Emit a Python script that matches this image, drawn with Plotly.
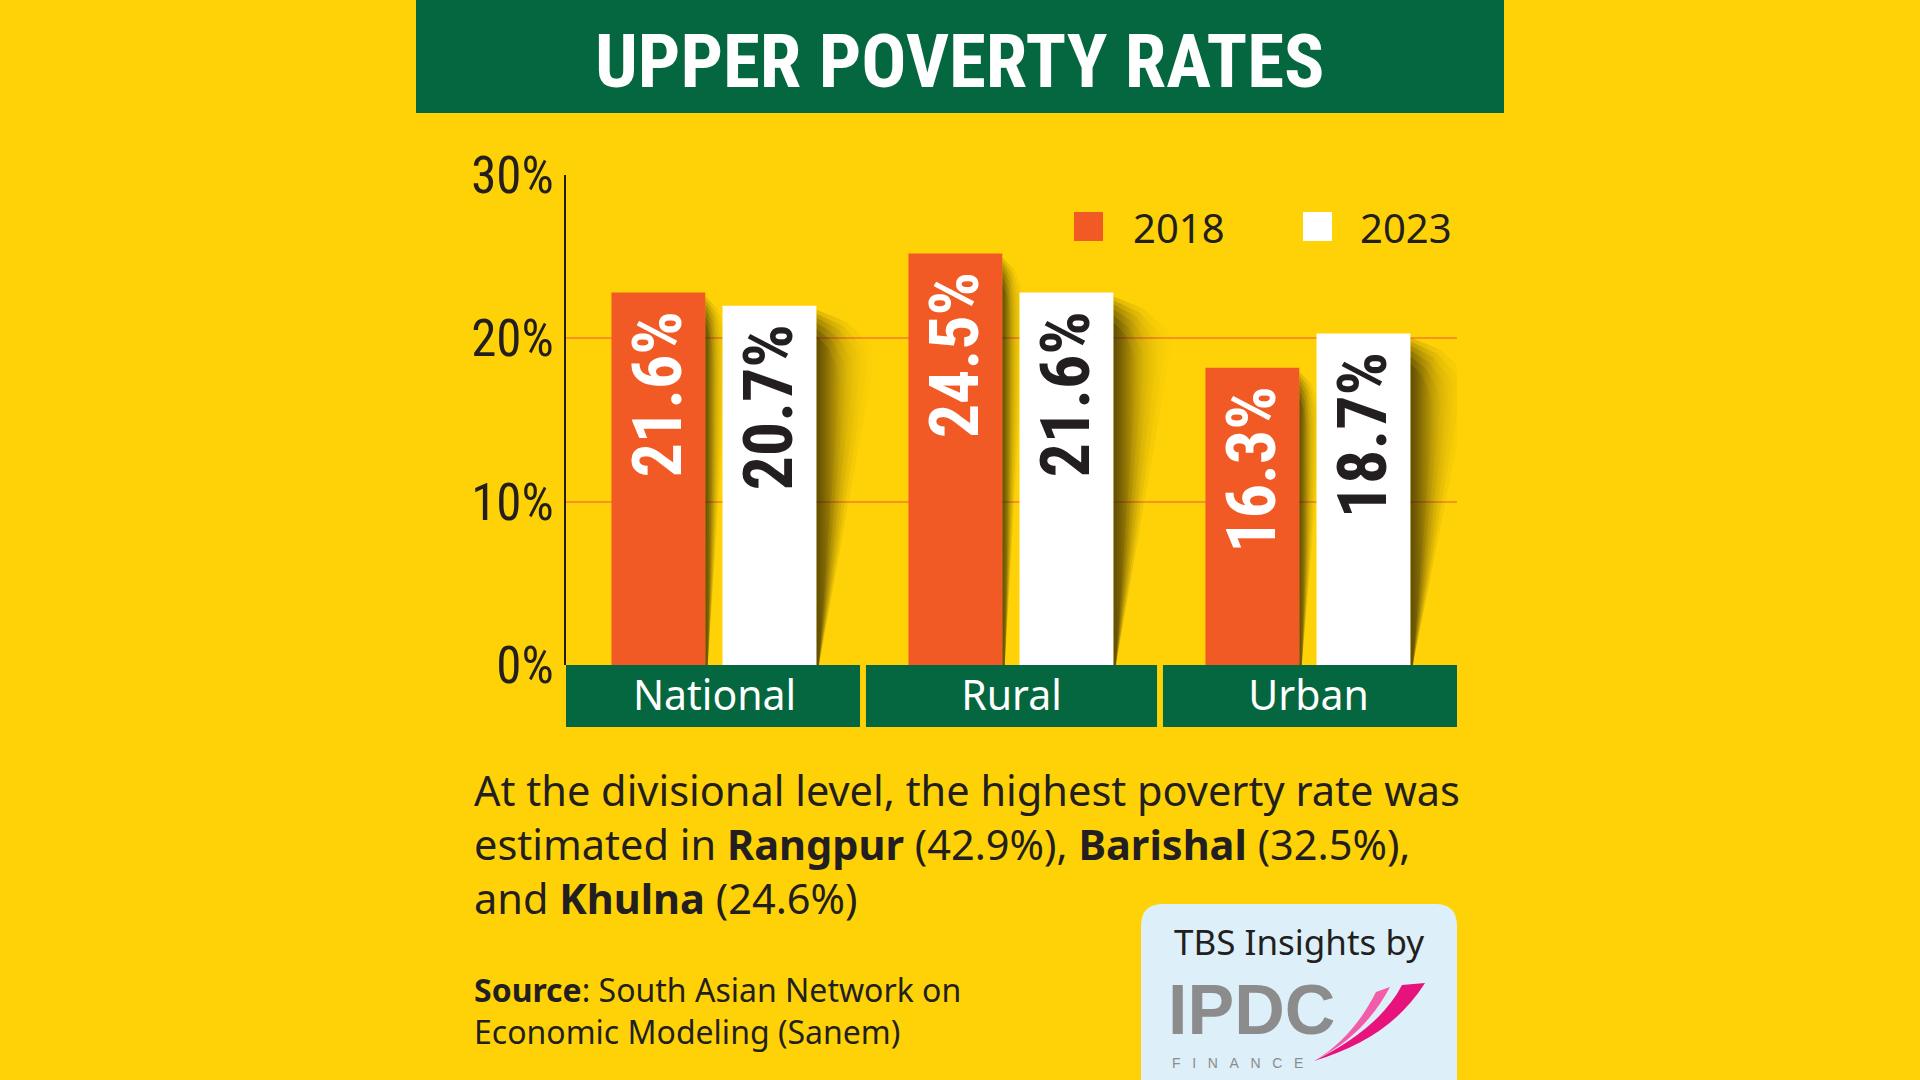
import plotly.graph_objects as go

# ---------------- data ----------------
categories = ["National", "Rural", "Urban"]
series_names = ["2018", "2023"]
bar_2018 = [22.8, 25.2, 18.2]      # drawn bar heights
bar_2023 = [22.0, 22.8, 20.3]
label_2018 = [21.6, 24.5, 16.3]    # printed value labels
label_2023 = [20.7, 21.6, 18.7]
y_ticks = [0, 10, 20, 30]

# ---------------- styles ----------------
W, H = 1920, 1080
YELLOW = "#FED206"
GREEN = "#05673F"
ORANGE = "#F15A24"
GRID = "#F7941D"
DARK = "#231F20"
NARROW = "Liberation Sans Narrow, Roboto Condensed, Liberation Sans, Arial, sans-serif"
SANS = "Noto Sans, Open Sans, sans-serif"

def px(x):
    return x / W

def py(y):
    return 1 - y / H

def path_px(cmds):
    out = []
    for c in cmds:
        if isinstance(c, str):
            out.append(c)
        else:
            out.append(f"{px(c[0]):.5f},{py(c[1]):.5f}")
    return " ".join(out)

X0, X1 = 566, 1457      # plot area in px
Y0, Y1 = 175, 665
UX = 3 / (X1 - X0)      # data units per px (x)
UY = 30 / (Y1 - Y0)     # data units per px (y)

BAR_W = 0.316
OFFSETS = [-0.347, 0.027]
SHADOW_W = [24, 60]

fig = go.Figure()

# ---- soft shadows (base axes, drawn beneath bars on overlay axes) ----
layers = [(1.00, 4, 0.10), (0.88, 8, 0.11), (0.76, 12, 0.12),
          (0.64, 17, 0.14), (0.52, 23, 0.16), (0.40, 30, 0.20)]
for s, heights in enumerate([bar_2018, bar_2023]):
    sw = SHADOW_W[s]
    for i, h in enumerate(heights):
        R = i + OFFSETS[s] + BAR_W
        for k, top, a in layers:
            w = sw * k
            xs = [R, R + 0.5 * w * UX, R + w * UX, R + 2.5 * UX, R, R]
            ys = [h - top * UY, h - (top + 12) * UY, h - (top + 40) * UY, 0, 0, h - top * UY]
            fig.add_trace(go.Scatter(
                x=xs, y=ys, mode="lines", line=dict(width=0), fill="toself",
                fillgradient=dict(type="horizontal",
                                  colorscale=[[0, f"rgba(35,25,0,{a + 0.05:.2f})"],
                                              [0.5, f"rgba(35,25,0,{a * 0.5:.2f})"],
                                              [1, "rgba(35,25,0,0)"]]),
                hoverinfo="skip", showlegend=False, xaxis="x", yaxis="y"))

# ---- bars ----
bar_colors = [ORANGE, "#FFFFFF"]
text_colors = ["#FFFFFF", DARK]
for s, (heights, labels) in enumerate([(bar_2018, label_2018), (bar_2023, label_2023)]):
    fig.add_trace(go.Bar(
        name=series_names[s],
        x=list(range(len(categories))), y=heights,
        width=BAR_W, offset=OFFSETS[s],
        marker=dict(color=bar_colors[s], line=dict(width=0)),
        text=[f"{v:.1f}%\u00a0" for v in labels],
        textposition="inside", insidetextanchor="end", textangle=-90,
        constraintext="none",
        insidetextfont=dict(family=NARROW, size=68, color=text_colors[s], weight="bold"),
        hoverinfo="skip", cliponaxis=False, showlegend=False,
        xaxis="x2", yaxis="y2"))

shapes = []
# header band
shapes.append(dict(type="rect", xref="paper", yref="paper",
                   x0=px(416), x1=px(1504), y0=py(113), y1=1,
                   fillcolor=GREEN, line=dict(width=0), layer="below"))
# category boxes below the axis
n = len(categories)
for i in range(n):
    shapes.append(dict(type="rect", xref="x", yref="paper",
                       x0=i - 0.5 + (0.01 if i > 0 else 0),
                       x1=i + 0.5 - (0.01 if i < n - 1 else 0),
                       y0=py(727), y1=py(665),
                       fillcolor=GREEN, line=dict(width=0), layer="below"))
# legend swatches
shapes.append(dict(type="rect", xref="paper", yref="paper",
                   x0=px(1074), x1=px(1103), y0=py(241), y1=py(212),
                   fillcolor=ORANGE, line=dict(width=0)))
shapes.append(dict(type="rect", xref="paper", yref="paper",
                   x0=px(1303), x1=px(1332), y0=py(241), y1=py(212),
                   fillcolor="#FFFFFF", line=dict(width=0)))
# logo box (rounded)
r = 22
lx0, lx1, ly0, ly1 = 1141, 1457, 904, 1080
shapes.append(dict(type="path", xref="paper", yref="paper",
                   path=path_px(["M", (lx0, ly1), "L", (lx0, ly0 + r),
                                 "Q", (lx0, ly0), (lx0 + r, ly0),
                                 "L", (lx1 - r, ly0),
                                 "Q", (lx1, ly0), (lx1, ly0 + r),
                                 "L", (lx1, ly1), "Z"]),
                   fillcolor="#DDEFF9", line=dict(width=0), layer="below"))
# pink swoosh
shapes.append(dict(type="path", xref="paper", yref="paper",
                   path=path_px(["M", (1314, 1061),
                                 "C", (1362, 1046), (1398, 1025), (1425, 983),
                                 "L", (1402, 985),
                                 "C", (1385, 1018), (1352, 1042), (1314, 1061), "Z"]),
                   fillcolor="#E8127C", line=dict(width=0)))
shapes.append(dict(type="path", xref="paper", yref="paper",
                   path=path_px(["M", (1316, 1060),
                                 "C", (1350, 1042), (1372, 1020), (1390, 987),
                                 "L", (1376, 992),
                                 "C", (1362, 1020), (1342, 1044), (1316, 1060), "Z"]),
                   fillcolor="#F25CA8", line=dict(width=0)))

annotations = []
annotations.append(dict(xref="paper", yref="paper", x=px(960), y=py(61),
                        text="<b>UPPER POVERTY RATES</b>", showarrow=False,
                        xanchor="center", yanchor="middle",
                        font=dict(family=NARROW, size=75, color="#FFFFFF")))
# legend labels
for name, lx in zip(series_names, [1131, 1358]):
    annotations.append(dict(xref="paper", yref="paper", x=px(lx), y=py(227),
                            text=name, showarrow=False, xanchor="left", yanchor="middle",
                            font=dict(family=SANS, size=40, color=DARK)))
# paragraph (one block)
para = ["At the divisional level, the highest poverty rate was",
        "estimated in <b>Rangpur</b> (42.9%), <b>Barishal</b> (32.5%),",
        "and <b>Khulna</b> (24.6%)"]
annotations.append(dict(xref="paper", yref="paper", x=px(472), y=py(844),
                        text="<br>".join(para), showarrow=False,
                        xanchor="left", yanchor="middle", align="left",
                        font=dict(family=SANS, size=41.5, color=DARK)))
src = ["<b>Source</b>: South Asian Network on", "Economic Modeling (Sanem)"]
annotations.append(dict(xref="paper", yref="paper", x=px(472), y=py(1010),
                        text="<br>".join(src), showarrow=False,
                        xanchor="left", yanchor="middle", align="left",
                        font=dict(family=SANS, size=32, color=DARK)))
# logo texts
annotations.append(dict(xref="paper", yref="paper", x=px(1299), y=py(941),
                        text="TBS Insights by", showarrow=False,
                        xanchor="center", yanchor="middle",
                        font=dict(family=SANS, size=35, color=DARK)))
annotations.append(dict(xref="paper", yref="paper", x=px(1166), y=py(1010),
                        text="<b>IPDC</b>", showarrow=False,
                        xanchor="left", yanchor="middle",
                        font=dict(family="Liberation Sans, Arial, sans-serif", size=70, color="#8C8C8C")))
annotations.append(dict(xref="paper", yref="paper", x=px(1170), y=py(1063),
                        text="\u00a0\u00a0\u00a0".join("FINANCE"), showarrow=False,
                        xanchor="left", yanchor="middle",
                        font=dict(family="Liberation Sans, Arial, sans-serif", size=14, color="#8C8C8C")))

fig.update_layout(
    width=W, height=H,
    margin=dict(l=0, r=0, t=0, b=0, pad=0, autoexpand=False),
    paper_bgcolor=YELLOW, plot_bgcolor="rgba(0,0,0,0)",
    showlegend=False,
    xaxis=dict(domain=[px(X0), px(X1)], range=[-0.5, 2.5],
               tickvals=list(range(n)), ticktext=categories,
               tickfont=dict(family=SANS, size=41, color="#FFFFFF"),
               showgrid=False, zeroline=False, showline=False, ticks="",
               ticklabelstandoff=3, automargin=False, fixedrange=True),
    yaxis=dict(domain=[py(Y1), py(Y0)], range=[0, 30],
               tickvals=y_ticks, ticktext=[f"{t}%" for t in y_ticks],
               tickfont=dict(family=NARROW, size=51, color=DARK),
               showgrid=True, gridcolor=GRID, gridwidth=2,
               zeroline=False, showline=True, linecolor=DARK, linewidth=2,
               ticks="", ticklabelstandoff=0, automargin=False, fixedrange=True),
    xaxis2=dict(overlaying="x", anchor="y2", range=[-0.5, 2.5], visible=False, fixedrange=True),
    yaxis2=dict(overlaying="y", anchor="x2", range=[0, 30], visible=False, fixedrange=True),
    shapes=shapes, annotations=annotations,
)

fig.write_html("out.html")
